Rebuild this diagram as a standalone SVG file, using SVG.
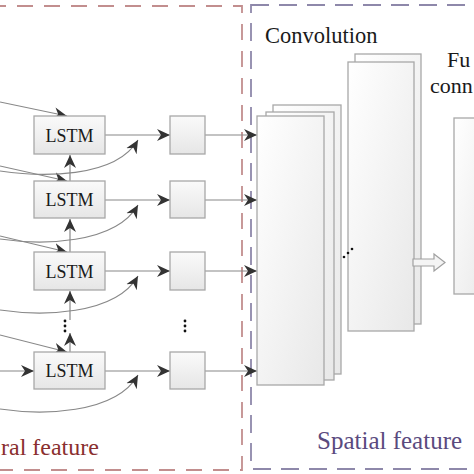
<svg xmlns="http://www.w3.org/2000/svg" width="474" height="474" viewBox="0 0 474 474">
<defs>
<linearGradient id="g" x1="0" y1="0" x2="0" y2="1"><stop offset="0" stop-color="#fafafa"/><stop offset="1" stop-color="#e6e6e6"/></linearGradient>
<linearGradient id="gc" x1="0" y1="0" x2="1" y2="1"><stop offset="0" stop-color="#ffffff"/><stop offset="1" stop-color="#e8e8e8"/></linearGradient>
<marker id="ah" markerUnits="userSpaceOnUse" markerWidth="15" markerHeight="14" refX="13" refY="7" orient="auto"><path d="M0,1 L13,7 L0,13 L4,7 z" fill="#333"/></marker>
</defs>
<style>
.box{fill:url(#g);stroke:#a8a8a8;stroke-width:1.3}
.cv{fill:url(#gc);stroke:#a8a8a8;stroke-width:1.3}
.ar{fill:none;stroke:#888;stroke-width:1.2;marker-end:url(#ah)}
.dot{fill:#111}
text{font-family:'Liberation Serif','DejaVu Serif',serif}
</style>
<rect width="474" height="474" fill="#fff"/>
<g id="temporal-region">
<rect x="-10" y="6" width="252" height="464" fill="none" stroke="#c28e8e" stroke-width="1.8" stroke-dasharray="16 11"/>
<text x="1" y="455" font-size="24" fill="#8a2f2f">ral feature</text>
</g>
<g id="spatial-region">
<rect x="251" y="5" width="240" height="464" fill="none" stroke="#8e88aa" stroke-width="1.8" stroke-dasharray="18 10"/>
<text x="317" y="449" font-size="25" fill="#5a4a7e">Spatial feature</text>
</g>
<g id="connectors">
<path class="ar" d="M0,102 L67,116"/>
<path class="ar" d="M0,166 L67,181"/>
<path class="ar" d="M0,236 L67,252"/>
<path class="ar" d="M0,335 L67,352"/>
<path class="ar" d="M0,371 L34,371"/>
<path class="ar" d="M0,171 C40,177 115,179 138,140"/>
<path class="ar" d="M0,239 C40,245 115,245 138,205"/>
<path class="ar" d="M0,310 C40,316 115,316 138,276"/>
<path class="ar" d="M0,409 C40,415 115,415 138,375"/>
<path class="ar" d="M70,181 L70,155"/>
<path class="ar" d="M70,252 L70,219"/>
<path class="ar" d="M70,320 L70,291"/>
<path class="ar" d="M70,352 L70,333"/>
<path class="ar" d="M105,135 L170,135"/>
<path class="ar" d="M105,200 L170,200"/>
<path class="ar" d="M105,271 L170,271"/>
<path class="ar" d="M105,371 L170,371"/>
<path class="ar" d="M205,135 L257,135"/>
<path class="ar" d="M205,200 L257,200"/>
<path class="ar" d="M205,271 L257,271"/>
<path class="ar" d="M205,371 L257,371"/>
<circle class="dot" cx="65" cy="321" r="1.4"/><circle class="dot" cx="65" cy="326" r="1.4"/><circle class="dot" cx="65" cy="331" r="1.4"/>
<circle class="dot" cx="185" cy="321" r="1.4"/><circle class="dot" cx="185" cy="326" r="1.4"/><circle class="dot" cx="185" cy="331" r="1.4"/>
</g>
<g id="lstm1"><rect class="box" x="34" y="116" width="71" height="38"/><text fill="#1a1a1a" x="69.5" y="141.5" text-anchor="middle" font-size="18">LSTM</text></g>
<g id="lstm2"><rect class="box" x="34" y="181" width="71" height="37"/><text fill="#1a1a1a" x="69.5" y="206" text-anchor="middle" font-size="18">LSTM</text></g>
<g id="lstm3"><rect class="box" x="34" y="252" width="71" height="38"/><text fill="#1a1a1a" x="69.5" y="277.5" text-anchor="middle" font-size="18">LSTM</text></g>
<g id="lstm4"><rect class="box" x="34" y="352" width="71" height="37"/><text fill="#1a1a1a" x="69.5" y="377" text-anchor="middle" font-size="18">LSTM</text></g>
<g id="out1"><rect class="box" x="170" y="116" width="35" height="38"/></g>
<g id="out2"><rect class="box" x="170" y="181" width="35" height="37"/></g>
<g id="out3"><rect class="box" x="170" y="252" width="35" height="38"/></g>
<g id="out4"><rect class="box" x="170" y="352" width="35" height="37"/></g>
<g id="conv1">
<rect class="cv" x="273" y="105" width="68" height="269"/>
<rect class="cv" x="266" y="112" width="68" height="268"/>
<rect class="cv" x="257" y="116" width="67" height="269"/>
</g>
<g id="conv2">
<rect class="cv" x="355" y="54" width="66" height="270"/>
<rect class="cv" x="348" y="62" width="66" height="269"/>
<circle class="dot" cx="344" cy="257" r="1.3"/><circle class="dot" cx="348" cy="253" r="1.3"/><circle class="dot" cx="352" cy="249" r="1.3"/>
</g>
<g id="conv-label"><text fill="#1a1a1a" x="265" y="43" font-size="22.5">Convolution</text></g>
<g id="arrow-fc"><path d="M413,259 L434,259 L434,254 L445,262.5 L434,271 L434,266 L413,266 z" fill="#f4f4f4" stroke="#a0a0a0" stroke-width="1.2"/></g>
<g id="fc">
<rect class="cv" x="454" y="118" width="40" height="176"/>
<text fill="#1a1a1a" x="447" y="67" font-size="22">Fu</text>
<text fill="#1a1a1a" x="430" y="93" font-size="22">conn</text>
</g>
</svg>
